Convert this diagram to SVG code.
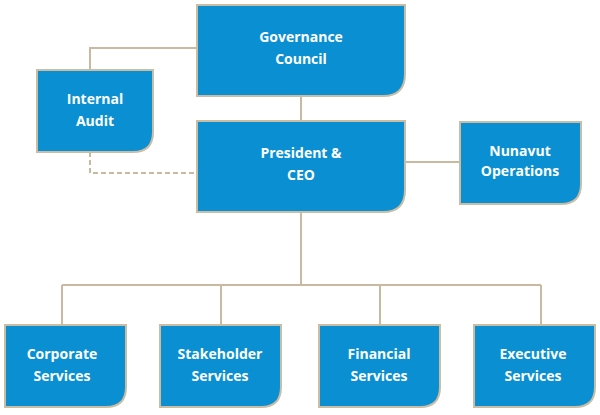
<svg xmlns="http://www.w3.org/2000/svg" width="600" height="415" viewBox="0 0 600 415">
<style>
.n{fill:#0a8fd2;stroke:#cbbda4;stroke-width:2}
.t{font-family:"Open Sans","Liberation Sans",sans-serif;font-weight:bold;font-size:14px;fill:#fff;text-anchor:middle}
.c{fill:none;stroke:#c8b9a0;stroke-width:2}
</style>
<rect width="600" height="415" fill="#fff"/>
<g id="connectors">
<path class="c" d="M197 48H90V70"/>
<path class="c" d="M90 152V173H197" stroke-dasharray="5,3"/>
<path class="c" d="M301 96V121"/>
<path class="c" d="M405 162H460"/>
<path class="c" d="M301 212V285M62 285H541M62 285V325M221 285V325M380 285V325M541 285V325"/>
</g>
<g id="governance"><path class="n" d="M197 5H405V74Q405 96 383 96H197Z"/><text class="t" x="301" y="42">Governance</text><text class="t" x="301" y="64">Council</text></g>
<g id="president"><path class="n" d="M197 121H405V190Q405 212 383 212H197Z"/><text class="t" x="301" y="158">President &amp;</text><text class="t" x="301" y="180">CEO</text></g>
<g id="audit"><path class="n" d="M37 70H153V132Q153 152 133 152H37Z"/><text class="t" x="95" y="104">Internal</text><text class="t" x="95" y="126">Audit</text></g>
<g id="nunavut"><path class="n" d="M460 122H581V184Q581 204 561 204H460Z"/><text class="t" x="520" y="156">Nunavut</text><text class="t" x="520" y="176">Operations</text></g>
<g id="corporate"><path class="n" d="M5 325H126V387Q126 407 106 407H5Z"/><text class="t" x="62" y="359">Corporate</text><text class="t" x="62" y="381">Services</text></g>
<g id="stakeholder"><path class="n" d="M160 325H281V387Q281 407 261 407H160Z"/><text class="t" x="220" y="359">Stakeholder</text><text class="t" x="220" y="381">Services</text></g>
<g id="financial"><path class="n" d="M319 325H440V387Q440 407 420 407H319Z"/><text class="t" x="379" y="359">Financial</text><text class="t" x="379" y="381">Services</text></g>
<g id="executive"><path class="n" d="M474 325H595V387Q595 407 575 407H474Z"/><text class="t" x="533" y="359">Executive</text><text class="t" x="533" y="381">Services</text></g>
</svg>
